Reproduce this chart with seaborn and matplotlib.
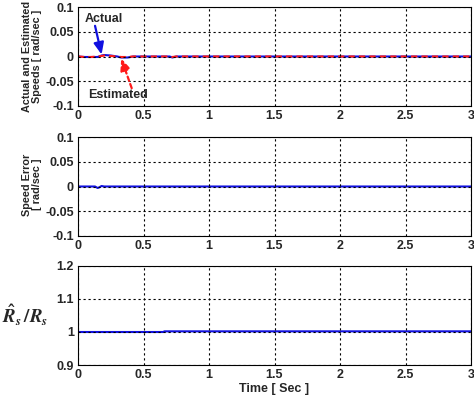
import numpy as np
import pandas as pd
import seaborn as sns
import matplotlib
matplotlib.use("Agg")
import matplotlib.pyplot as plt

# values
time_pts = [0.0, 0.05, 0.10, 0.15, 0.18, 0.20, 0.25, 0.30, 0.33, 0.38, 0.42, 0.70, 0.72, 0.75, 1.0, 2.0, 3.0]
actual_speed = [0.0, -0.001, -0.001, -0.001, 0.002, 0.003, 0.002, 0.0, -0.002, -0.002, 0.0, 0.0, -0.002, 0.0, 0.0, 0.0, 0.0]
est_speed = [0.0, -0.001, -0.001, 0.0, 0.001, 0.002, 0.001, 0.0, -0.001, -0.001, 0.0, 0.0, -0.001, 0.0, 0.0, 0.0, 0.0]

err_time = [0.0, 0.13, 0.15, 0.16, 0.18, 0.20, 3.0]
speed_err = [0.0, 0.0, -0.003, -0.002, 0.001, 0.0, 0.0]

rs_time = [0.0, 0.65, 0.66, 3.0]
rs_ratio = [1.0, 1.0, 1.002, 1.002]

x_ticks = [0, 0.5, 1, 1.5, 2, 2.5, 3]
x_ticklabels = ["0", "0.5", "1", "1.5", "2", "2.5", "3"]

sns.set_style("white")
plt.rcParams["font.family"] = ["Liberation Sans", "DejaVu Sans"]
plt.rcParams["font.weight"] = "bold"
plt.rcParams["mathtext.fontset"] = "stix"

blue = "#1010e0"
red = "#ff1a1a"

fig = plt.figure(figsize=(4.74, 3.95), dpi=100)
ax1 = fig.add_axes([78/474, 1 - 106/395, 393/474, 99/395])
ax2 = fig.add_axes([78/474, 1 - 236/395, 393/474, 99/395])
ax3 = fig.add_axes([78/474, 1 - 365/395, 393/474, 99/395])

top = pd.DataFrame({"t": time_pts, "actual": actual_speed, "est": est_speed})
sns.lineplot(data=top, x="t", y="actual", ax=ax1, color=blue, lw=1.5)
sns.lineplot(data=top, x="t", y="est", ax=ax1, color=red, lw=1.5, linestyle=(0, (3, 2)))

mid = pd.DataFrame({"t": err_time, "err": speed_err})
sns.lineplot(data=mid, x="t", y="err", ax=ax2, color=blue, lw=1.5)

bot = pd.DataFrame({"t": rs_time, "r": rs_ratio})
sns.lineplot(data=bot, x="t", y="r", ax=ax3, color=blue, lw=1.5)

for ax in (ax1, ax2, ax3):
    ax.set_xlim(0, 3)
    ax.set_xticks(x_ticks)
    ax.set_xticklabels(x_ticklabels)
    ax.grid(True, color="black", linestyle=(0, (2, 2.5)), lw=0.8)
    ax.set_axisbelow(False)
    ax.tick_params(labelsize=9, length=0, pad=3)
    for s in ax.spines.values():
        s.set_color("black")
        s.set_linewidth(0.8)
    ax.set_xlabel("")
    ax.set_ylabel("")

for ax in (ax1, ax2):
    ax.set_ylim(-0.1, 0.1)
    ax.set_yticks([-0.1, -0.05, 0, 0.05, 0.1])
    ax.set_yticklabels(["-0.1", "-0.05", "0", "0.05", "0.1"])

ax3.set_ylim(0.9, 1.2)
ax3.set_yticks([0.9, 1.0, 1.1, 1.2])
ax3.set_yticklabels(["0.9", "1", "1.1", "1.2"])

for ax in (ax1, ax2, ax3):
    for lbl in ax.get_xticklabels() + ax.get_yticklabels():
        lbl.set_fontweight("bold")

ax1.set_ylabel("Actual and Estimated\nSpeeds [ rad/sec ]", fontsize=7.8, fontweight="bold",
               linespacing=1.0, va="center", ha="center")
ax1.yaxis.set_label_coords(-0.118, 0.5)
ax2.set_ylabel("Speed Error\n[ rad/sec ]", fontsize=7.8, fontweight="bold",
               linespacing=1.0, va="center", ha="center")
ax2.yaxis.set_label_coords(-0.118, 0.52)
ax3.set_ylabel(r"$\hat{R}_s\,/R_s$", fontsize=13.5, rotation=0, ha="center", va="center")
ax3.yaxis.set_label_coords(-0.135, 0.5)
ax3.set_xlabel("Time [ Sec ]", fontsize=9, fontweight="bold", labelpad=1)

ax1.text(0.05, 0.075, "Actual", fontsize=9, fontweight="bold", va="center", ha="left")
ax1.annotate("", xy=(0.18, 0.004), xytext=(0.13, 0.062),
             arrowprops=dict(arrowstyle="-|>,head_length=0.7,head_width=0.3", color=blue, lw=1.6,
                             shrinkA=0, shrinkB=0))
ax1.text(0.075, -0.077, "Estimated", fontsize=9, fontweight="bold", va="center", ha="left")
ax1.annotate("", xy=(0.33, -0.004), xytext=(0.41, -0.064),
             arrowprops=dict(arrowstyle="-|>,head_length=0.7,head_width=0.3", color=red, lw=1.6,
                             linestyle=(0, (2, 1.5)), shrinkA=0, shrinkB=0))

fig.savefig("out.png", dpi=100)
